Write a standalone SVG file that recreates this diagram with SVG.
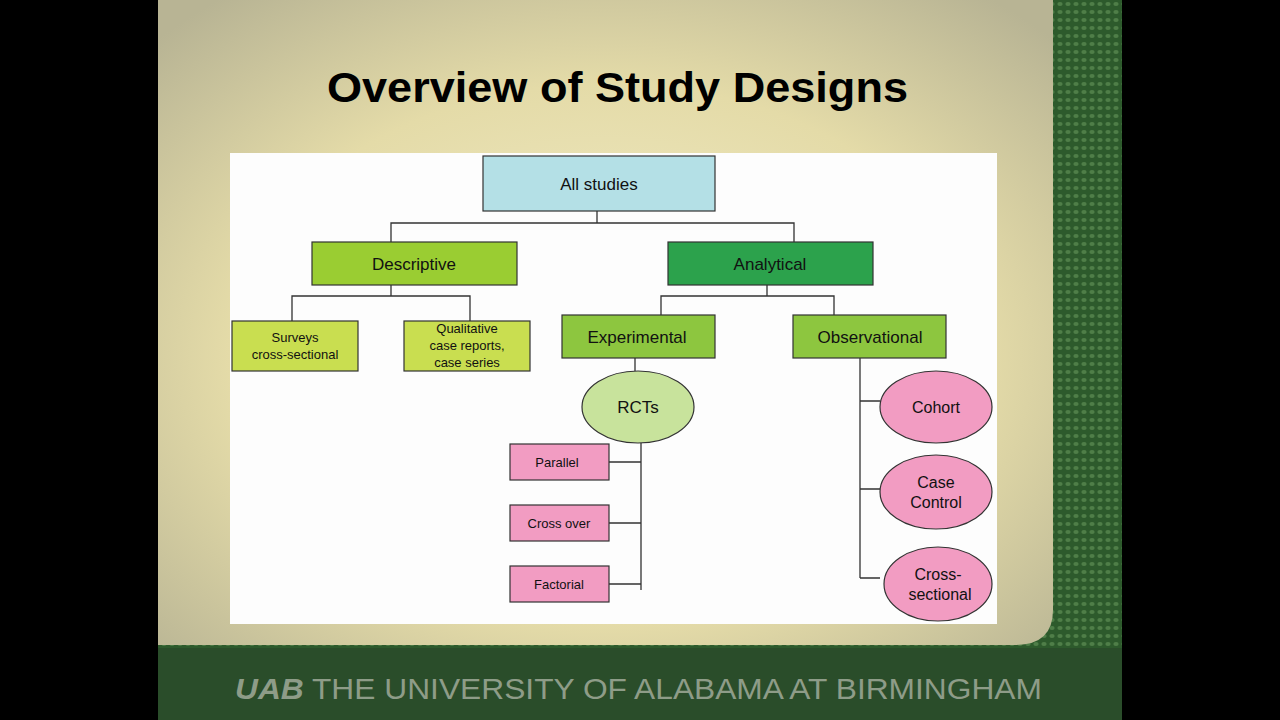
<svg xmlns="http://www.w3.org/2000/svg" width="1280" height="720" viewBox="0 0 1280 720">
<defs>
<radialGradient id="bg" cx="0.5" cy="0.55" r="0.7">
<stop offset="0" stop-color="#f3eecb"/><stop offset="0.6" stop-color="#e4dba8"/><stop offset="1" stop-color="#b8b494"/>
</radialGradient>
<pattern id="dots" width="8" height="8" patternUnits="userSpaceOnUse">
<rect width="8" height="8" fill="#2d5a2c"/><ellipse cx="4" cy="4" rx="2.6" ry="2" fill="#4f7e48"/>
</pattern>
<style>
.b{stroke:#333;stroke-width:1.2}
.t{font-family:"Liberation Sans",Arial,sans-serif;fill:#111;text-anchor:middle}
.c{fill:none;stroke:#333;stroke-width:1.3}
</style>
</defs>
<rect width="1280" height="720" fill="#000"/>
<rect x="158" y="0" width="964" height="720" fill="url(#dots)"/>
<path d="M158 0H1053V610Q1053 645 1015 645H158Z" fill="url(#bg)"/>
<rect x="158" y="648" width="964" height="72" fill="#2a4d2a"/>
<text x="235" y="699" font-family="Liberation Sans,Arial,sans-serif" font-size="29" fill="#8e9c88" textLength="807" lengthAdjust="spacingAndGlyphs"><tspan font-weight="bold" font-style="italic">UAB</tspan> THE UNIVERSITY OF ALABAMA AT BIRMINGHAM</text>
<text x="327" y="102" font-family="Liberation Sans,Arial,sans-serif" font-weight="bold" font-size="42" fill="#000" textLength="581" lengthAdjust="spacingAndGlyphs">Overview of Study Designs</text>
<rect x="230" y="153" width="767" height="471" fill="#fdfdfd"/>
<g id="connectors">
<path class="c" d="M597 211V223M391 242V223H794V242M391 285V296M292 321V296H470V321M767 285V296M661 315V296H834V315M635 358V371M641 443V590M609 462H641M609 523H641M609 584H641M860 358V578M860 401H880M860 489H880M860 578H880"/>
</g>
<g id="all"><rect class="b" x="483" y="156" width="232" height="55" fill="#b4e0e6"/><text class="t" x="599" y="190" font-size="17">All studies</text></g>
<g id="descriptive"><rect class="b" x="312" y="242" width="205" height="43" fill="#9acd32"/><text class="t" x="414" y="270" font-size="17">Descriptive</text></g>
<g id="analytical"><rect class="b" x="668" y="242" width="205" height="43" fill="#2ca24c"/><text class="t" x="770" y="270" font-size="17">Analytical</text></g>
<g id="surveys"><rect class="b" x="232" y="321" width="126" height="50" fill="#c9de50"/><text class="t" x="295" y="342" font-size="13">Surveys</text><text class="t" x="295" y="359" font-size="13">cross-sectional</text></g>
<g id="qualitative"><rect class="b" x="404" y="321" width="126" height="50" fill="#c9de50"/><text class="t" x="467" y="333" font-size="13">Qualitative</text><text class="t" x="467" y="350" font-size="13">case reports,</text><text class="t" x="467" y="367" font-size="13">case series</text></g>
<g id="experimental"><rect class="b" x="562" y="315" width="153" height="43" fill="#8dc63f"/><text class="t" x="637" y="343" font-size="17">Experimental</text></g>
<g id="observational"><rect class="b" x="793" y="315" width="153" height="43" fill="#8dc63f"/><text class="t" x="870" y="343" font-size="17">Observational</text></g>
<g id="rcts"><ellipse class="b" cx="638" cy="407" rx="56" ry="36" fill="#c8e39c"/><text class="t" x="638" y="413" font-size="17">RCTs</text></g>
<g id="parallel"><rect class="b" x="510" y="444" width="99" height="36" fill="#f29cc2"/><text class="t" x="557" y="467" font-size="13">Parallel</text></g>
<g id="crossover"><rect class="b" x="510" y="505" width="99" height="36" fill="#f29cc2"/><text class="t" x="559" y="528" font-size="13">Cross over</text></g>
<g id="factorial"><rect class="b" x="510" y="566" width="99" height="36" fill="#f29cc2"/><text class="t" x="559" y="589" font-size="13">Factorial</text></g>
<g id="cohort"><ellipse class="b" cx="936" cy="407" rx="56" ry="36" fill="#f29cc2"/><text class="t" x="936" y="413" font-size="16">Cohort</text></g>
<g id="casecontrol"><ellipse class="b" cx="936" cy="492" rx="56" ry="37" fill="#f29cc2"/><text class="t" x="936" y="488" font-size="16">Case</text><text class="t" x="936" y="508" font-size="16">Control</text></g>
<g id="crosssectional"><ellipse class="b" cx="938" cy="584" rx="54" ry="37" fill="#f29cc2"/><text class="t" x="938" y="580" font-size="16">Cross-</text><text class="t" x="940" y="600" font-size="16">sectional</text></g>
</svg>
